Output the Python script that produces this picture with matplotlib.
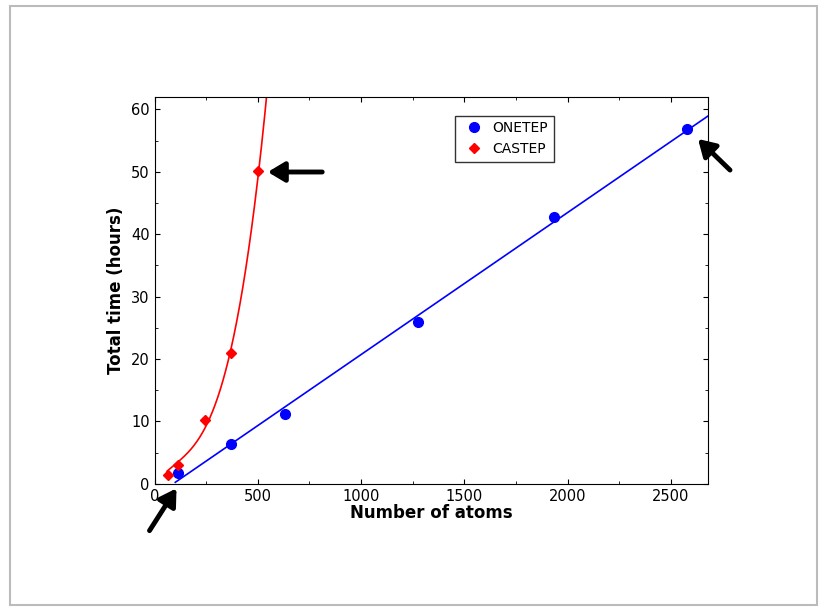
import numpy as np
import matplotlib
matplotlib.use("Agg")
import matplotlib.pyplot as plt
from matplotlib.patches import Rectangle

onetep_atoms = [111, 372, 633, 1277, 1934, 2577]
onetep_hours = [1.8, 6.4, 11.2, 26.0, 42.7, 56.8]
castep_atoms = [63, 111, 242, 372, 503]
castep_hours = [1.4, 3.0, 10.2, 21.0, 50.1]

fig = plt.figure(figsize=(8.27, 6.14), dpi=100)
fig.patches.append(Rectangle((0.012, 0.015), 0.976, 0.975, transform=fig.transFigure,
                             fill=False, ec="#bbbbbb", lw=1.5))
ax = fig.add_axes([0.187, 0.212, 0.669, 0.630])

# fits
p1 = np.polyfit(onetep_atoms, onetep_hours, 1)
xl = np.linspace(100, 2700, 50)
ax.plot(xl, np.polyval(p1, xl), color="blue", lw=1.2)
ca = np.array(castep_atoms, float)
A = np.vstack([ca, ca**2, ca**3]).T
coef = np.linalg.lstsq(A, np.array(castep_hours), rcond=None)[0]
xc = np.linspace(60, 600, 300)
ax.plot(xc, coef[0]*xc + coef[1]*xc**2 + coef[2]*xc**3, color="red", lw=1.2)

ax.plot(onetep_atoms, onetep_hours, "o", color="blue", ms=7, label="ONETEP", ls="none")
ax.plot(castep_atoms, castep_hours, "D", color="red", ms=5, label="CASTEP", ls="none")

ax.set_xlim(0, 2680)
ax.set_ylim(0, 62)
ax.set_xticks([0, 500, 1000, 1500, 2000, 2500])
ax.set_yticks(range(0, 61, 10))
ax.set_xticks(range(0, 2700, 250), minor=True)
ax.set_yticks(range(0, 62, 5), minor=True)
ax.tick_params(direction="in", which="both", top=True, right=True, labelsize=10.5)
ax.set_xlabel("Number of atoms", fontsize=12, fontweight="bold", labelpad=0)
ax.set_ylabel("Total time (hours)", fontsize=12, fontweight="bold")
ax.legend(loc="upper left", bbox_to_anchor=(0.53, 0.97), fontsize=10, frameon=True,
          fancybox=False, edgecolor="black", handletextpad=0.3, borderpad=0.4)

kw = dict(xycoords="figure pixels", textcoords="figure pixels",
          arrowprops=dict(arrowstyle="-|>,head_width=0.6,head_length=1", color="black", lw=3.5))
H = 614
ax.annotate("", xy=(178, H - 486), xytext=(148, H - 533), **kw)
ax.annotate("", xy=(265, H - 172), xytext=(325, H - 172), **kw)
ax.annotate("", xy=(696, H - 137), xytext=(732, H - 172), **kw)

fig.savefig("out.png", dpi=100)
